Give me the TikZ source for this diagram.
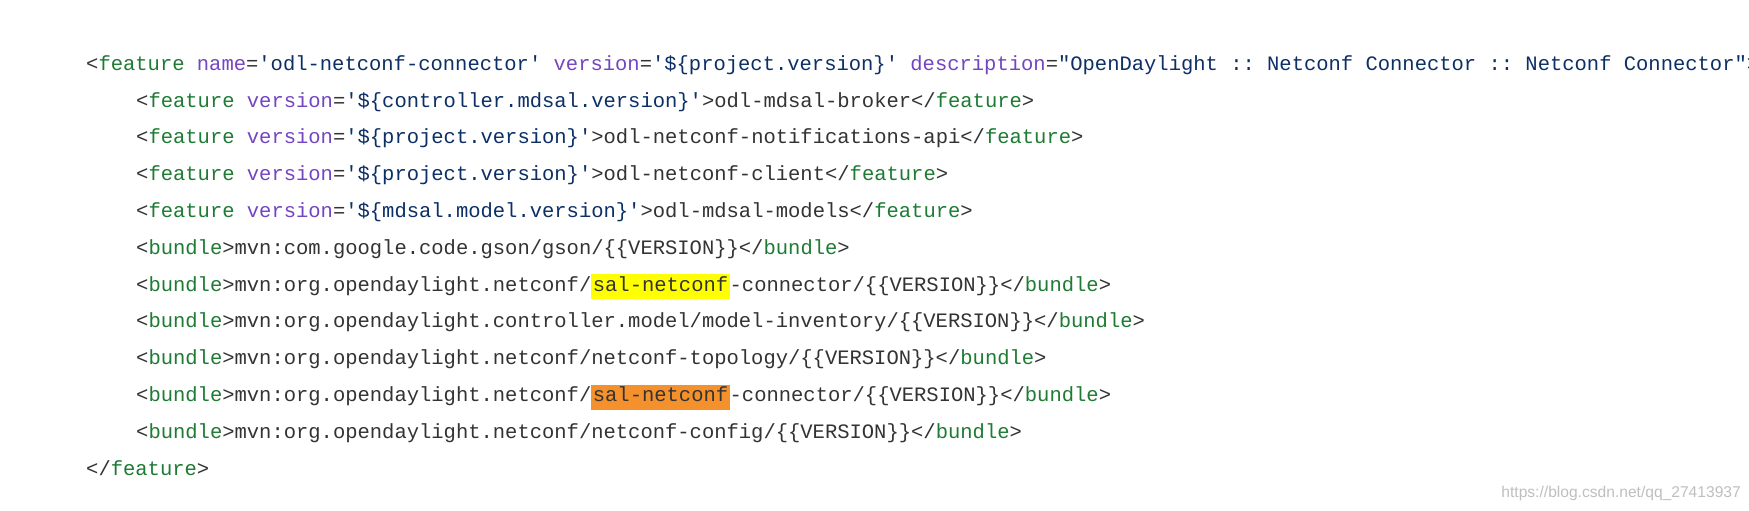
\documentclass[tikz,border=0pt]{standalone}
\usepackage{fontspec}
\setmonofont{Liberation Mono}
\newfontfamily\wmfont{Liberation Sans}
\definecolor{tg}{HTML}{1E7B34}
\definecolor{at}{HTML}{7445C2}
\definecolor{vl}{HTML}{0C2F66}
\definecolor{pn}{HTML}{333333}
\definecolor{hy}{HTML}{FFFF00}
\definecolor{ho}{HTML}{F5912D}
\newcommand{\Tg}[1]{\textcolor{tg}{#1}}
\newcommand{\At}[1]{\textcolor{at}{#1}}
\newcommand{\Vl}[1]{\textcolor{vl}{#1}}
\newcommand{\Hl}[2]{{\setlength{\fboxsep}{1.5pt}\colorbox{#1}{\strut #2}}}
\begin{document}
\begin{tikzpicture}[x=1pt,y=-1pt,
  codeline/.style={anchor=base west,inner sep=0pt,font=\ttfamily\fontsize{20.5}{22}\selectfont,text=pn}]
\useasboundingbox (0,0) rectangle (1749,511);
\clip (0,0) rectangle (1749,511);
\fill[white] (0,0) rectangle (1749,511);
\node[codeline] (l1) at (86,70.3) {<\Tg{feature} \At{name}=\Vl{'odl-netconf-connector'} \At{version}=\Vl{'\$\{project.version\}'} \At{description}=\Vl{"OpenDaylight :: Netconf Connector :: Netconf Connector"}>};
\node[codeline] (l2) at (136,107.1) {<\Tg{feature} \At{version}=\Vl{'\$\{controller.mdsal.version\}'}>odl-mdsal-broker</\Tg{feature}>};
\node[codeline] (l3) at (136,143.9) {<\Tg{feature} \At{version}=\Vl{'\$\{project.version\}'}>odl-netconf-notifications-api</\Tg{feature}>};
\node[codeline] (l4) at (136,180.7) {<\Tg{feature} \At{version}=\Vl{'\$\{project.version\}'}>odl-netconf-client</\Tg{feature}>};
\node[codeline] (l5) at (136,217.5) {<\Tg{feature} \At{version}=\Vl{'\$\{mdsal.model.version\}'}>odl-mdsal-models</\Tg{feature}>};
\node[codeline] (l6) at (136,254.3) {<\Tg{bundle}>mvn:com.google.code.gson/gson/\{\{VERSION\}\}</\Tg{bundle}>};
\node[codeline] (l7) at (136,291.1) {<\Tg{bundle}>mvn:org.opendaylight.netconf/\Hl{hy}{sal-netconf}-connector/\{\{VERSION\}\}</\Tg{bundle}>};
\node[codeline] (l8) at (136,327.9) {<\Tg{bundle}>mvn:org.opendaylight.controller.model/model-inventory/\{\{VERSION\}\}</\Tg{bundle}>};
\node[codeline] (l9) at (136,364.7) {<\Tg{bundle}>mvn:org.opendaylight.netconf/netconf-topology/\{\{VERSION\}\}</\Tg{bundle}>};
\node[codeline] (l10) at (136,401.5) {<\Tg{bundle}>mvn:org.opendaylight.netconf/\Hl{ho}{sal-netconf}-connector/\{\{VERSION\}\}</\Tg{bundle}>};
\node[codeline] (l11) at (136,438.3) {<\Tg{bundle}>mvn:org.opendaylight.netconf/netconf-config/\{\{VERSION\}\}</\Tg{bundle}>};
\node[codeline] (l12) at (86,475.1) {</\Tg{feature}>};
\node[anchor=base east,inner sep=0pt,font=\wmfont\fontsize{15.6}{18}\selectfont,text=black!25] (wm) at (1741,497) {https://blog.csdn.net/qq\_27413937};
\end{tikzpicture}
\end{document}
